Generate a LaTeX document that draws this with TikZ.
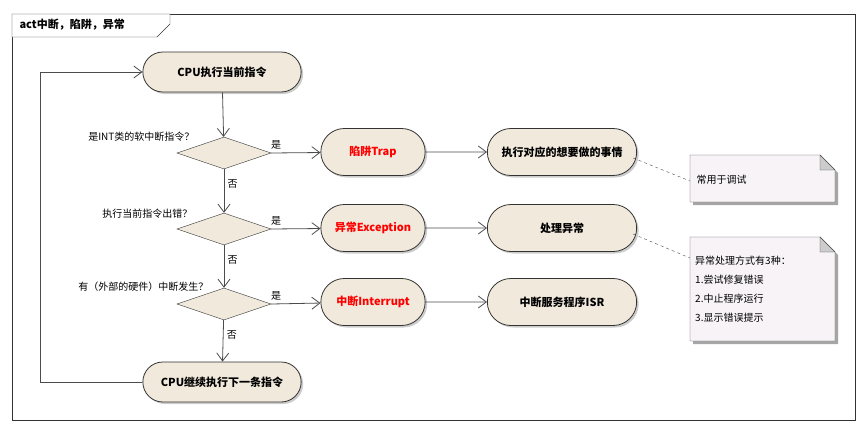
\documentclass[tikz,border=0pt]{standalone}
\usepackage{fontspec}
\setmainfont{Noto Sans CJK SC}
\usetikzlibrary{shapes.geometric,arrows.meta,shadows,shapes.misc}
\definecolor{bg}{HTML}{F1E9DB}
\definecolor{nt}{HTML}{F7F3F7}
\tikzset{
 act/.style={rounded rectangle,draw=black!80,thick,fill=bg,minimum height=38pt,font=\bfseries\fontsize{11}{13}\selectfont,drop shadow={shadow xshift=2pt,shadow yshift=-2pt,opacity=0.4}},
 dec/.style={diamond,draw=black!80,fill=bg,aspect=3,minimum width=94pt,minimum height=32pt,inner sep=0pt},
 arr/.style={draw=black!70,thick,-{Straight Barb[length=8pt,width=12pt]}},
 lbl/.style={font=\fontsize{10}{12}\selectfont},
 note/.style={font=\fontsize{10}{12}\selectfont,align=left,anchor=north west}
}
\begin{document}
\begin{tikzpicture}[x=1pt,y=-1pt]
\useasboundingbox (0,0) rectangle (867,432);
\draw[black!80] (12,14) rectangle (855,420);
\draw[black!80,fill=white] (12,14) -- (170,14) -- (170,24) -- (157,37) -- (12,37) -- cycle;
\node[anchor=west,font=\bfseries\fontsize{11}{13}\selectfont] (title) at (16,25) {act中断，陷阱，异常};

\node[act,minimum width=165pt,minimum height=40pt] (s) at (222,72) {CPU执行当前指令};
\node[dec] (d1) at (224,153) {};
\node[dec] (d2) at (224,229) {};
\node[dec] (d3) at (224,304) {};
\node[act,minimum width=165pt,minimum height=40pt] (e) at (222,382) {CPU继续执行下一条指令};
\node[act,minimum width=111pt,minimum height=47pt,text=red] (t) at (373,152) {陷阱Trap};
\node[act,minimum width=111pt,minimum height=47pt,text=red] (x) at (373,228) {异常Exception};
\node[act,minimum width=111pt,minimum height=47pt,text=red] (i) at (373,302) {中断Interrupt};
\node[act,minimum width=156pt,minimum height=47pt] (t2) at (562,152) {执行对应的想要做的事情};
\node[act,minimum width=156pt,minimum height=47pt] (x2) at (562,228) {处理异常};
\node[act,minimum width=156pt,minimum height=47pt] (i2) at (562,302) {中断服务程序ISR};

\node[lbl,anchor=east] (q1) at (198,137) {是INT类的软中断指令？};
\node[lbl,anchor=east] (q2) at (196,214) {执行当前指令出错？};
\node[lbl,anchor=east] (q3) at (212,287) {有（外部的硬件）中断发生？};

\draw[arr] (s) -- (d1);
\draw[arr] (d1) -- node[lbl,pos=0.35,right] {否} (d2);
\draw[arr] (d2) -- node[lbl,pos=0.35,right] {否} (d3);
\draw[arr] (d3) -- node[lbl,pos=0.35,right] {否} (e);
\draw[arr] (d1.east) -- node[lbl,pos=0.1,above] {是} (t);
\draw[arr] (d2.east) -- node[lbl,pos=0.1,above] {是} (x);
\draw[arr] (d3.east) -- node[lbl,pos=0.1,above] {是} (i);
\draw[arr] (t) -- (t2);
\draw[arr] (x) -- (x2);
\draw[arr] (i) -- (i2);
\coordinate (c1) at (40,382);
\coordinate (c2) at (40,72);
\draw[arr] (e.west) -- (c1) -- (c2) -- (s.west);

% notes
\fill[black!35] (693,158) -- (823,158) -- (838,173) -- (838,205) -- (693,205) -- cycle;
\draw[black!70,fill=nt] (690,155) -- (820,155) -- (835,170) -- (835,202) -- (690,202) -- cycle;
\draw[black!70,fill=black!20] (820,155) -- (820,170) -- (835,170) -- cycle;
\node[note] (n1) at (693,172) {常用于调试};
\fill[black!35] (693,240) -- (823,240) -- (838,255) -- (838,344) -- (693,344) -- cycle;
\draw[black!70,fill=nt] (690,237) -- (820,237) -- (835,252) -- (835,341) -- (690,341) -- cycle;
\draw[black!70,fill=black!20] (820,237) -- (820,252) -- (835,252) -- cycle;
\node[note,inner sep=2pt] (n2) at (693,254) {异常处理方式有3种：\\[7pt]1.尝试修复错误\\[7pt]2.中止程序运行\\[7pt]3.显示错误提示};
\coordinate (a1) at (690,181);
\coordinate (a2) at (690,258);
\draw[dashed,black!70] (t2.east) ++(-4,6) -- (a1);
\draw[dashed,black!70] (x2.east) ++(-4,6) -- (a2);
\end{tikzpicture}
\end{document}
